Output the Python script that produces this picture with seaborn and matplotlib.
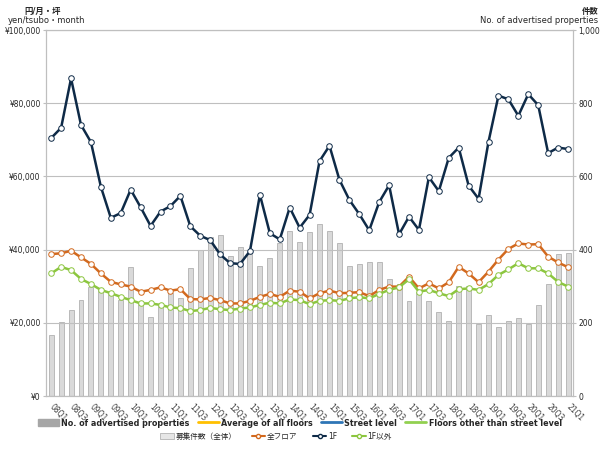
import numpy as np
import pandas as pd
import matplotlib
matplotlib.use("Agg")
import matplotlib.pyplot as plt
import seaborn as sns
from matplotlib.lines import Line2D
from matplotlib.patches import Patch

# =====================================================
# DATA
# =====================================================
quarters = [f"{y:02d}Q{q}" for y in range(8, 21) for q in range(1, 5)] + ["21Q1"]

listings = [167, 203, 235, 262, 299, 292, 283, 262, 352, 251, 217, 246, 282, 269, 351,
            399, 435, 440, 383, 406, 387, 355, 378, 417, 451, 422, 447,
            470, 452, 417, 355, 361, 365, 365, 320, 305, 260, 285, 260, 230,
            206, 301, 301, 196, 221, 189, 206, 214, 197, 248, 305, 387, 392]

rent_1f = [70.5, 73.3, 86.8, 74.1, 69.4, 57.2, 48.7, 50.0, 56.4, 51.6, 46.5, 50.4, 51.9, 54.7, 46.4,
           43.8, 42.6, 38.7, 36.3, 36.1, 39.6, 55.0, 44.5, 42.8, 51.5, 46.0, 49.5,
           64.2, 68.4, 59.1, 53.6, 49.7, 45.3, 53.0, 57.6, 44.2, 49.0, 45.4, 59.8, 56.0,
           65.1, 67.9, 57.5, 53.9, 69.5, 82.1, 81.1, 76.6, 82.5, 79.5, 66.4, 67.9, 67.5]

rent_all = [38.8, 39.0, 39.7, 37.9, 36.1, 33.5, 31.2, 30.5, 29.9, 28.5, 29.0, 29.7, 28.8, 29.2, 26.5,
            26.4, 26.8, 26.2, 25.3, 25.3, 26.0, 27.1, 27.9, 27.1, 28.8, 28.5, 26.7,
            28.1, 28.8, 28.1, 28.2, 28.4, 27.3, 29.0, 29.9, 29.9, 32.6, 29.4, 30.8, 29.4,
            31.1, 35.3, 33.5, 31.1, 34.0, 37.3, 40.2, 41.7, 41.4, 41.5, 38.1, 36.5, 35.2]

rent_other = [33.5, 35.3, 34.4, 32.0, 30.6, 29.0, 28.1, 27.1, 26.2, 25.3, 25.3, 24.9, 24.2, 24.0, 23.2,
              23.5, 24.1, 23.7, 23.5, 23.9, 24.2, 24.9, 25.5, 25.3, 26.4, 26.2, 25.1,
              26.0, 26.2, 26.0, 26.7, 27.0, 26.7, 27.9, 29.0, 29.7, 31.9, 28.5, 29.0, 28.1,
              27.3, 29.2, 29.4, 29.0, 30.6, 33.1, 34.6, 36.3, 34.9, 34.9, 33.5, 31.2, 29.9]

df = pd.DataFrame({
    "quarter": quarters,
    "pos": np.arange(len(quarters)),
    "listings": listings,
    "1F": np.array(rent_1f) * 1000,
    "all": np.array(rent_all) * 1000,
    "other": np.array(rent_other) * 1000,
})

NAVY = "#0e2a47"
ORANGE = "#d2691e"
GREEN = "#8cc63f"
GRID = "#bfbfbf"

# =====================================================
# FIGURE
# =====================================================
sns.set_style("white")
plt.rcParams["font.family"] = ["DejaVu Sans", "Noto Sans CJK JP"]

fig = plt.figure(figsize=(6, 4.5), dpi=100)
ax = fig.add_axes([0.077, 0.12, 0.878, 0.813])
ax2 = ax.twinx()

# bars on the right axis, behind the lines
sns.barplot(data=df, x="pos", y="listings", ax=ax2, color="#d9d9d9",
            edgecolor="#a6a6a6", linewidth=0.5, width=0.5, saturation=1)
ax.set_zorder(ax2.get_zorder() + 1)
ax.patch.set_visible(False)

for col, c in [("1F", NAVY), ("all", ORANGE), ("other", GREEN)]:
    sns.lineplot(data=df, x="pos", y=col, ax=ax, color=c, lw=1.8, marker="o",
                 markersize=4, markerfacecolor="white", markeredgecolor=c,
                 markeredgewidth=0.7, sort=False)

ax.set_xlim(-0.5, 52.5)
ax.set_ylim(0, 100000)
ax2.set_ylim(0, 1000)

ax.set_yticks(np.arange(0, 100001, 20000))
ax.set_yticklabels([f"¥{v:,}" for v in range(0, 100001, 20000)], fontsize=5.5)
ax2.set_yticks(np.arange(0, 1001, 200))
ax2.set_yticklabels([f"{v:,}" for v in range(0, 1001, 200)], fontsize=5.5)
ax.grid(axis="y", color=GRID, lw=0.8)
ax.set_axisbelow(True)

ax.set_xticks(df["pos"][::2])
ax.set_xticklabels(df["quarter"][::2], rotation=-45, ha="left", va="center",
                   fontsize=5.5, rotation_mode="anchor", color="#404040")
ax.set_xlabel("")
ax.set_ylabel("")
ax2.set_xlabel("")
ax2.set_ylabel("")
ax.tick_params(axis="both", length=2, color=GRID, pad=2)
ax.tick_params(axis="x", pad=5)
ax2.tick_params(axis="y", length=2, color=GRID, pad=2)

for a in (ax, ax2):
    for s in a.spines.values():
        s.set_color(GRID)
        s.set_linewidth(0.8)

# titles of axes
fig.text(0.04, 0.975, "円/月・坪", fontsize=6, fontweight="bold", ha="left", va="center")
fig.text(0.013, 0.955, "yen/tsubo・month", fontsize=6, ha="left", va="center")
fig.text(0.997, 0.975, "件数", fontsize=6, fontweight="bold", ha="right", va="center")
fig.text(0.997, 0.955, "No. of advertised properties", fontsize=6, ha="right", va="center")

# legends
h1 = [Patch(facecolor="#a6a6a6", edgecolor="#a6a6a6"),
      Line2D([], [], color="#ffc000", lw=2),
      Line2D([], [], color="#2e75b6", lw=2),
      Line2D([], [], color="#92d050", lw=2)]
l1 = ["No. of advertised properties", "Average of all floors", "Street level",
      "Floors other than street level"]
leg1 = fig.legend(h1, l1, loc="center", bbox_to_anchor=(0.5, 0.06), ncol=4,
                  frameon=False, prop={"size": 5.8, "weight": "bold"},
                  handlelength=2.6, handletextpad=0.3, columnspacing=1.0,
                  handleheight=1.0)

h2 = [Patch(facecolor="#e6e6e6", edgecolor="#a6a6a6", lw=0.5),
      Line2D([], [], color=ORANGE, lw=1.5, marker="o", markersize=3,
             markerfacecolor="white", markeredgecolor=ORANGE),
      Line2D([], [], color=NAVY, lw=1.5, marker="o", markersize=3,
             markerfacecolor="white", markeredgecolor=NAVY),
      Line2D([], [], color=GREEN, lw=1.5, marker="o", markersize=3,
             markerfacecolor="white", markeredgecolor=GREEN)]
l2 = ["募集件数（全体）", "全フロア", "1F", "1F以外"]
leg2 = fig.legend(h2, l2, loc="center", bbox_to_anchor=(0.46, 0.031), ncol=4,
                  frameon=False, prop={"size": 5.5}, handlelength=1.8,
                  handletextpad=0.2, columnspacing=2.0, handleheight=0.7)

fig.savefig("out.png", dpi=100)
